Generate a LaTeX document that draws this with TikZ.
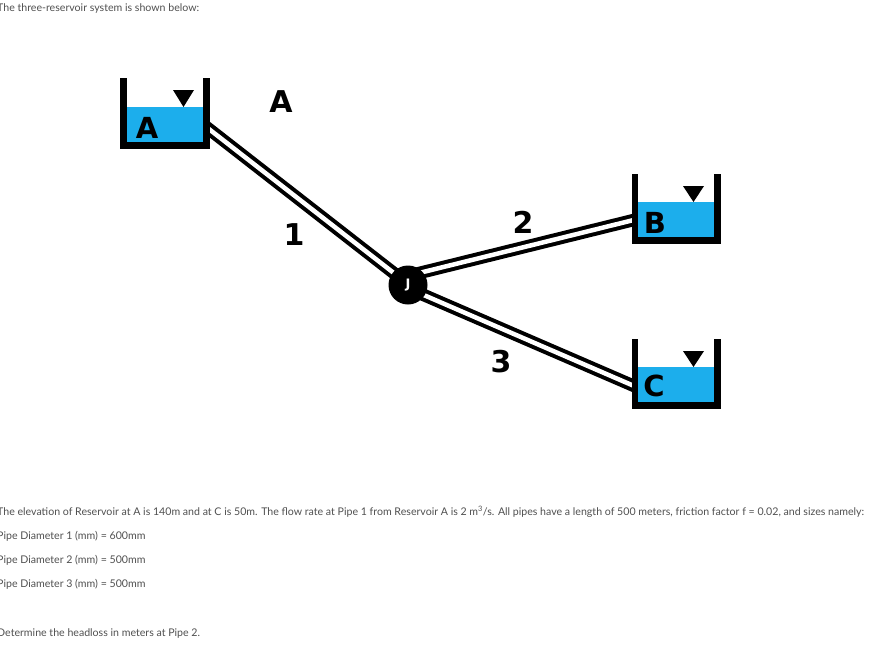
\documentclass[tikz,border=0pt]{standalone}
\usepackage{fontspec}
\setmainfont{Lato}
\newfontfamily\labelfont{DejaVu Sans Bold}
\definecolor{water}{HTML}{1CAEEC}
\definecolor{bodytext}{HTML}{505050}
\pgfdeclarelayer{pipes}
\pgfsetlayers{pipes,main}
\tikzset{
  tankbody/.style={inner sep=0pt,outer sep=0pt,minimum width=#1},
  wall/.style={draw=black,line width=6.5pt,line cap=butt,line join=miter},
  level/.style={fill=black,draw=none},
  liquid/.style={fill=water,draw=none},
  pipe/.style={draw=black,line width=12.5pt,line cap=butt,shorten <=-6pt,shorten >=-6pt},
  pipecore/.style={draw=white,line width=4.5pt,line cap=butt,shorten <=-6pt,shorten >=-6pt},
  junction/.style={circle,fill=black,minimum size=39pt,inner sep=0pt,text=white,font=\labelfont\fontsize{13}{14}\selectfont},
  tag/.style={font=\labelfont\fontsize{30}{32}\selectfont,inner sep=0pt},
  tanktag/.style={font=\labelfont\fontsize{29}{31}\selectfont,inner sep=0pt,text=black},
  para/.style={anchor=base west,inner sep=0pt,text=bodytext,font=\fontsize{10.6}{12}\selectfont}
}
\begin{document}
\begin{tikzpicture}[x=1pt,y=-1pt]
\useasboundingbox (0,0) rectangle (870,653);
\begin{pgfonlayer}{pipes}
\fill[white] (0,0) rectangle (870,653);
\end{pgfonlayer}
% anchor nodes for tanks
\node[tankbody=90pt,minimum height=71pt] (tankA) at (165,113.5) {};
\node[tankbody=89pt,minimum height=69pt] (tankB) at (676.5,208.5) {};
\node[tankbody=89pt,minimum height=70pt] (tankC) at (676.5,374) {};
\node[junction] (J) at (408,285) {J};
% pipes
\begin{pgfonlayer}{pipes}
\draw[pipe] (tankA.-20) -- (J.140);
\draw[pipecore] (tankA.-20) -- (J.140);
\draw[pipe] (tankB.195.7) -- (J.41);
\draw[pipecore] (tankB.195.7) -- (J.41);
\draw[pipe] (tankC.194) -- (J.-32);
\draw[pipecore] (tankC.194) -- (J.-32);
\end{pgfonlayer}
% tank A
\fill[white] (127,80) rectangle (203,107);
\fill[liquid] (123,107) rectangle (207,146);
\draw[wall] (123.5,78) -- (123.5,145.5) -- (206.5,145.5) -- (206.5,78);
\fill[level] (173,90) -- (194,90) -- (183.5,107) -- cycle;
\node[tanktag] (la) at (147,128) {A};
% tank B
\fill[white] (638,176) rectangle (714,202);
\fill[liquid] (635,202) rectangle (718,240);
\draw[wall] (635,174) -- (635,240.5) -- (717.5,240.5) -- (717.5,174);
\fill[level] (683,186) -- (704,186) -- (693.5,202) -- cycle;
\node[tanktag] (lb) at (655,222.5) {B};
% tank C
\fill[white] (638,341) rectangle (714,367);
\fill[liquid] (635,367) rectangle (718,406);
\draw[wall] (635,339) -- (635,405.5) -- (717.5,405.5) -- (717.5,339);
\fill[level] (683,351) -- (704,351) -- (693.5,367) -- cycle;
\node[tanktag] (lc) at (654,386) {C};
% labels
\node[tag] (t0) at (281,102) {A};
\node[tag] (t1) at (294,235) {1};
\node[tag] (t2) at (523,222) {2};
\node[tag] (t3) at (501,362) {3};
% text
\node[para] (p0) at (-3,11) {The three-reservoir system is shown below:};
\node[para] (p1) at (-3,515) {The elevation of Reservoir at A is 140m and at C is 50m. The flow rate at Pipe 1 from Reservoir A is 2 m\textsuperscript{3}/s. All pipes have a length of 500 meters, friction factor f = 0.02, and sizes namely:};
\node[para] (p2) at (-3,539) {Pipe Diameter 1 (mm) = 600mm};
\node[para] (p3) at (-3,563) {Pipe Diameter 2 (mm) = 500mm};
\node[para] (p4) at (-3,587) {Pipe Diameter 3 (mm) = 500mm};
\node[para] (p5) at (-3,636) {Determine the headloss in meters at Pipe 2.};
\end{tikzpicture}
\end{document}
